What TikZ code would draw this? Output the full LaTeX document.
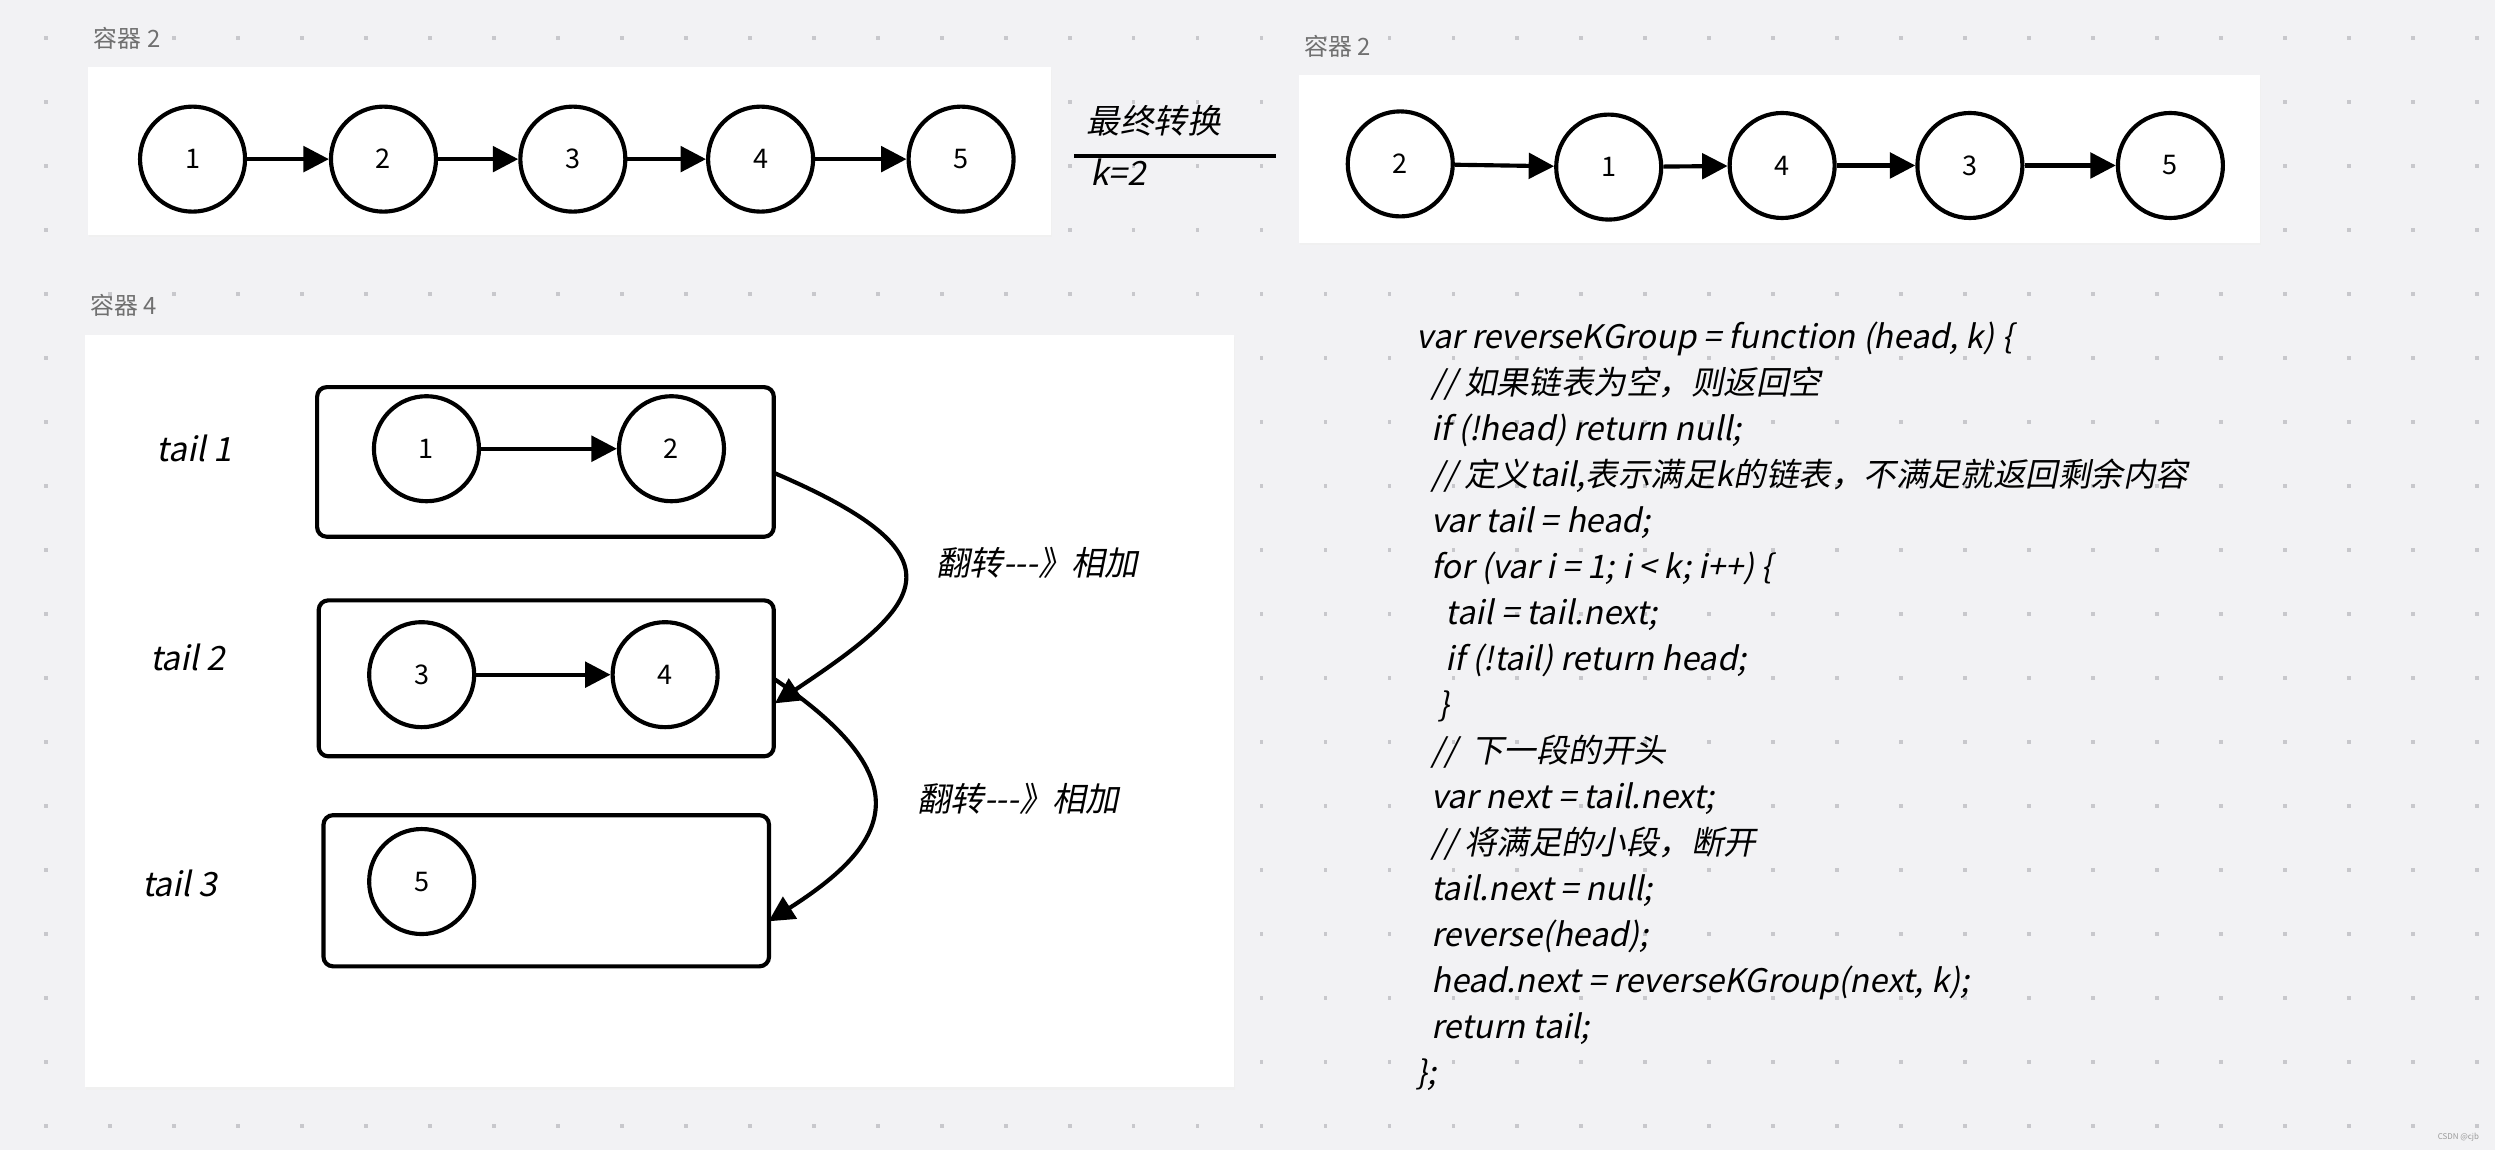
\documentclass[tikz,border=0pt]{standalone}
\usepackage{fontspec}
\setmainfont{Noto Sans CJK SC}[ItalicFont=Noto Sans CJK SC, ItalicFeatures={FakeSlant=0.2}]
\usetikzlibrary{arrows.meta}
\definecolor{bg}{HTML}{F2F2F4}
\definecolor{dotc}{HTML}{C8C8CC}
\definecolor{lbl}{HTML}{707070}
\tikzset{
 cnode/.style={circle,draw,line width=1.3pt,fill=white,minimum size=33pt,inner sep=0pt,font=\fontsize{8.5}{10}\selectfont},
 lnk/.style={line width=1.3pt,-{Triangle[length=8pt,width=8pt]}},
 panel/.style={fill=white,draw=black!8,line width=0.4pt},
 grp/.style={draw,line width=1.3pt,rounded corners=3pt},
 captxt/.style={text=lbl,font=\fontsize{7.5}{9}\selectfont,anchor=west},
 ital/.style={font=\fontsize{10.5}{13}\selectfont\itshape}
}
\begin{document}
\begin{tikzpicture}[x=0.5pt,y=-0.5pt]
\useasboundingbox (0,0) rectangle (1568,723);
\fill[bg] (0,0) rectangle (1568,723);
\foreach \i in {0,...,38}{\foreach \j in {0,...,17}{
 \fill[dotc] ({29+40.2*\i-1.2},{24+40.2*\j-1.2}) rectangle ++(2.4,2.4);}}
% top left
\node[captxt] (c1) at (52,24) {容器 2};
\fill[black!6] (56,44) rectangle (661,149);
\node[panel,draw=none,minimum width=302.5pt,minimum height=52.5pt,inner sep=0pt,anchor=north west] (p1) at (55,42) {};
\node[cnode] (a1) at (121,100) {1};
\node[cnode] (a2) at (241,100) {2};
\node[cnode] (a3) at (360,100) {3};
\node[cnode] (a4) at (478,100) {4};
\node[cnode] (a5) at (604,100) {5};
\draw[lnk] (a1)--(a2); \draw[lnk] (a2)--(a3); \draw[lnk] (a3)--(a4); \draw[lnk] (a4)--(a5);
% middle
\node[ital,anchor=west] (t1) at (676,76) {最终转换};
\node[ital,anchor=west] (t2) at (678,108) {k=2};
\coordinate (l1) at (675,98); \coordinate (l2) at (802,98);
\draw[line width=1.3pt] (l1)--(l2);
% top right
\node[captxt] (c2) at (813,29) {容器 2};
\fill[black!6] (817,49) rectangle (1421,154);
\node[panel,draw=none,minimum width=302pt,minimum height=52.5pt,inner sep=0pt,anchor=north west] (p2) at (816,47) {};
\node[cnode] (b1) at (880,103) {2};
\node[cnode] (b2) at (1011,105) {1};
\node[cnode] (b3) at (1120,104) {4};
\node[cnode] (b4) at (1238,104) {3};
\node[cnode] (b5) at (1364,104) {5};
\draw[lnk] (b1)--(b2); \draw[lnk] (b2)--(b3); \draw[lnk] (b3)--(b4); \draw[lnk] (b4)--(b5);
% bottom left
\node[captxt] (c3) at (50,192) {容器 4};
\fill[black!6] (54,212) rectangle (776,685);
\node[panel,draw=none,minimum width=361pt,minimum height=236.5pt,inner sep=0pt,anchor=north west] (p3) at (53,210) {};
\node[grp,minimum width=143.5pt,minimum height=47pt,anchor=north west] (g1) at (198,242) {};
\node[grp,minimum width=143pt,minimum height=49pt,anchor=north west] (g2) at (199,376) {};
\node[grp,minimum width=140pt,minimum height=47.5pt,anchor=north west] (g3) at (202,511) {};
\node[cnode] (d1) at (268,282) {1};
\node[cnode] (d2) at (422,282) {2};
\node[cnode] (d3) at (265,424) {3};
\node[cnode] (d4) at (418,424) {4};
\node[cnode] (d5) at (265,554) {5};
\draw[lnk] (d1)--(d2); \draw[lnk] (d3)--(d4);
\node[ital] (k1) at (122,282) {tail 1};
\node[ital] (k2) at (118,413) {tail 2};
\node[ital] (k3) at (113,555) {tail 3};
\coordinate (s1) at (486,297); \coordinate (e1) at (487,442);
\coordinate (s2) at (487,427); \coordinate (e2) at (483,579);
\draw[line width=1.3pt,-{Triangle[length=8pt,width=8pt]}] (s1) .. controls (610,350) and (580,380) .. (e1);
\draw[line width=1.3pt,-{Triangle[length=8pt,width=8pt]}] (s2) .. controls (580,490) and (560,530) .. (e2);
\node[ital] (m1) at (652,354) {翻转{-}{-}{-}》相加};
\node[ital] (m2) at (640,502) {翻转{-}{-}{-}》相加};
% code
\node[anchor=north west,align=left,font=\fontsize{10.2}{14.45}\selectfont\itshape,inner sep=0pt] (code) at (890,202) {%
var reverseKGroup = function (head, k) \{\\
\ \ // 如果链表为空，则返回空\\
\ \ if (!head) return null;\\
\ \ // 定义tail,表示满足k的链表，不满足就返回剩余内容\\
\ \ var tail = head;\\
\ \ for (var i = 1; i < k; i++) \{\\
\ \ \ \ tail = tail.next;\\
\ \ \ \ if (!tail) return head;\\
\ \ \ \}\\
\ \ //\ \ 下一段的开头\\
\ \ var next = tail.next;\\
\ \ // 将满足的小段，断开\\
\ \ tail.next = null;\\
\ \ reverse(head);\\
\ \ head.next = reverseKGroup(next, k);\\
\ \ return tail;\\
\};};
\node[font=\fontsize{2.5}{3}\selectfont,text=black!40] (wm) at (1545,715) {CSDN @cjb};
\end{tikzpicture}
\end{document}
